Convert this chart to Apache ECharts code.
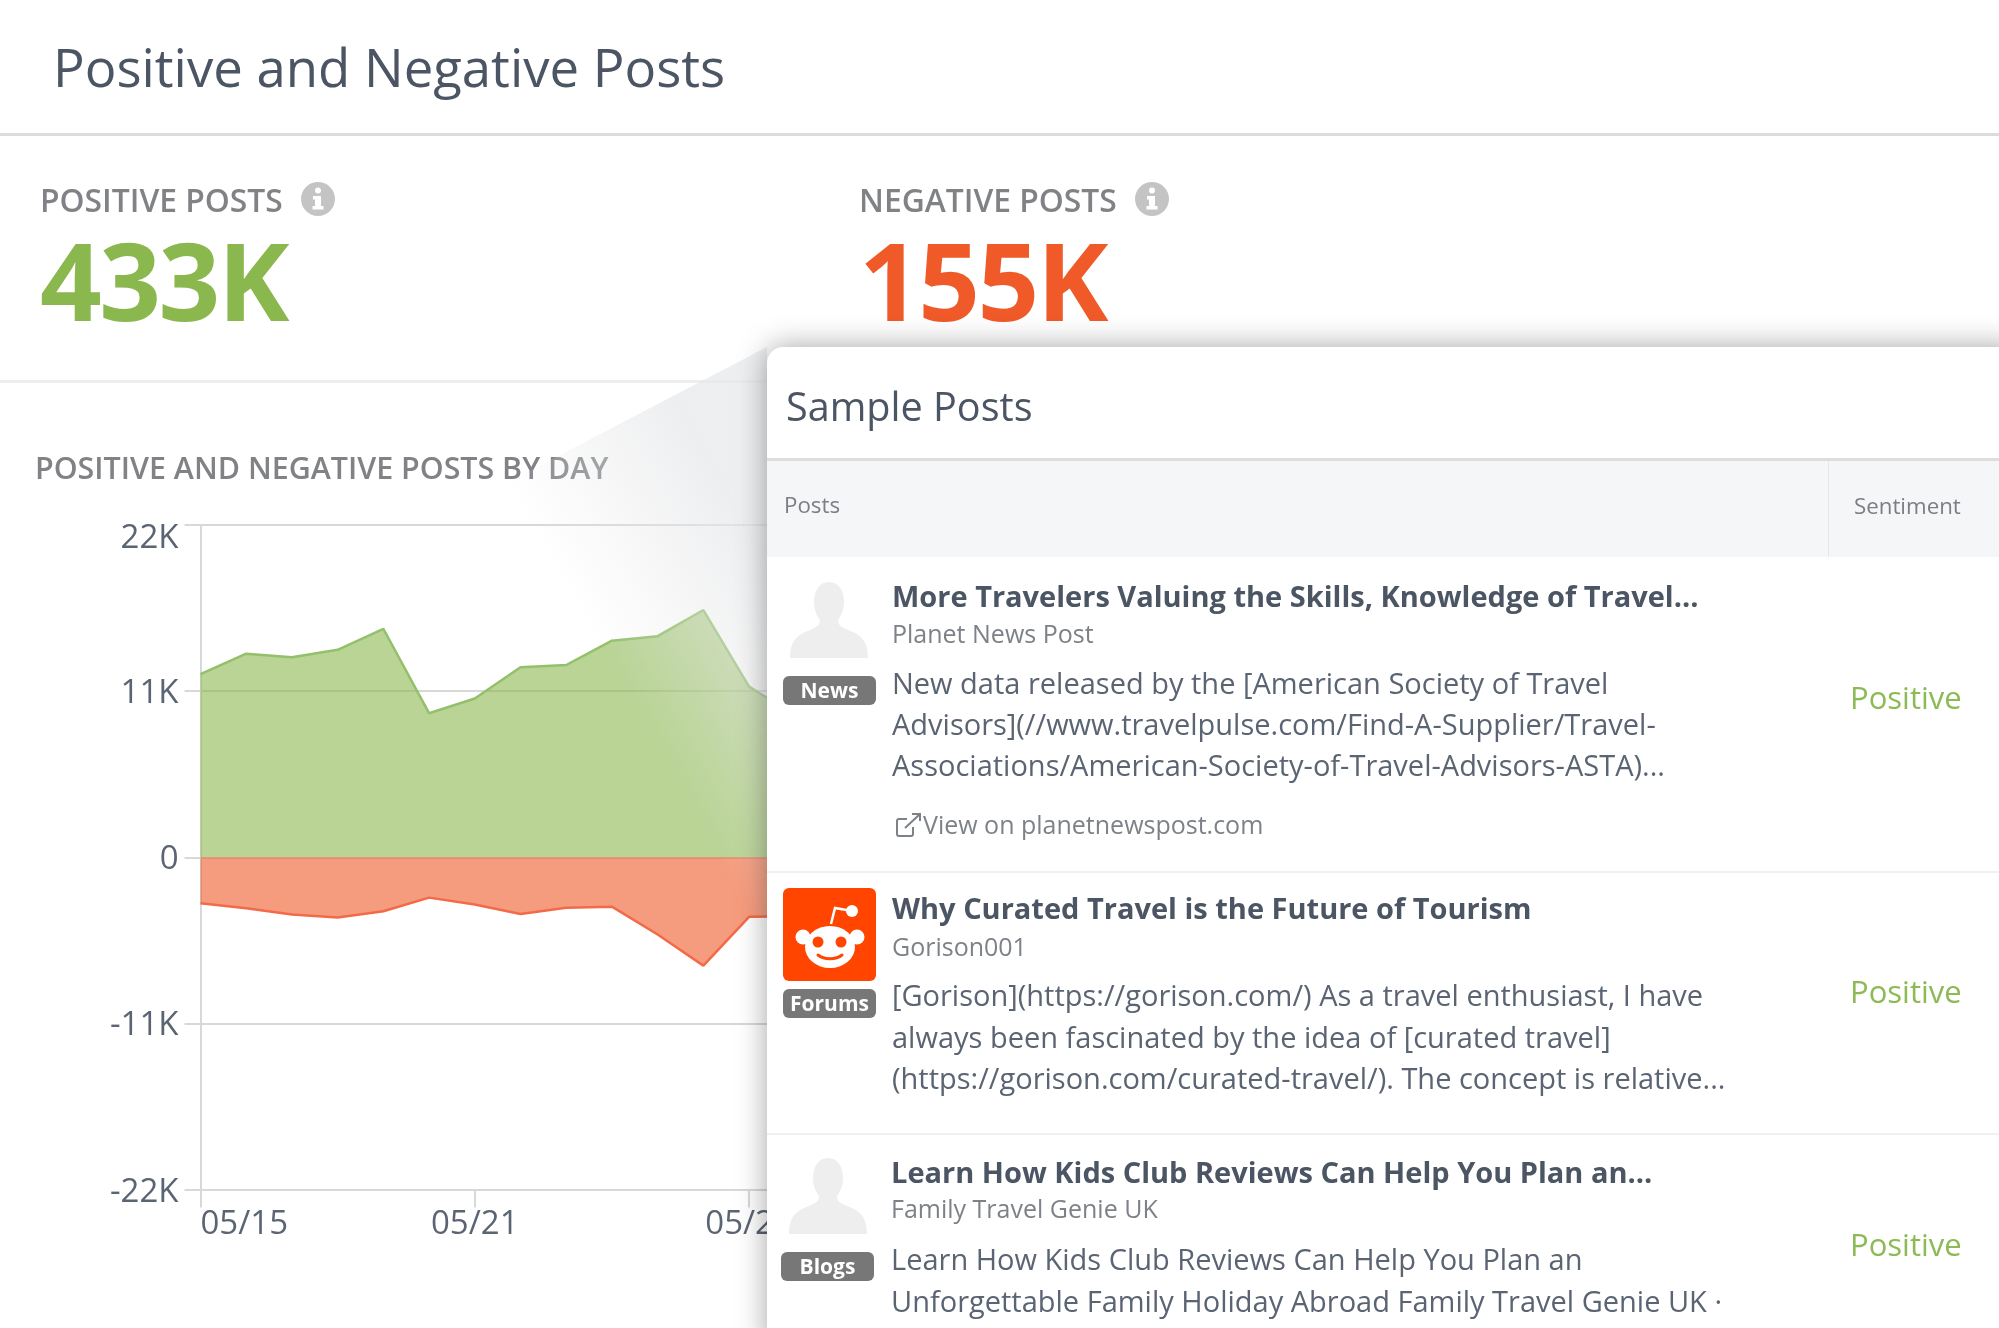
<!DOCTYPE html>
<html>
<head>
<meta charset="utf-8">
<title>Positive and Negative Posts</title>
<script src="https://cdn.jsdelivr.net/npm/echarts@6/dist/echarts.min.js"></script>
<style>
html, body { margin: 0; padding: 0; background: #fff; }
body { width: 1999px; height: 1328px; position: relative; overflow: hidden; font-family: "Open Sans", sans-serif; color: #4b5563; }
#chart { position: absolute; left: 0; top: 0; width: 1999px; height: 1328px; }
.t { position: absolute; white-space: nowrap; line-height: 1; transform: translateY(-50%); }
.rule { position: absolute; }
.label { font-size: 31.8px; font-weight: 600; color: #808285; }
.big { font-size: 108px; font-weight: 700; letter-spacing: -2.500px; }
.info { position: absolute; width: 34px; height: 34px; }
#wedge { position: absolute; left: 0; top: 0; }
#panel { position: absolute; left: 767px; top: 347px; width: 1260px; height: 1000px; background: #fff; border-radius: 16px 16px 0 0; box-shadow: 0 0 30px rgba(0,0,0,.36); }
.post-title { font-size: 29px; font-weight: 700; color: #4b5563; }
.post-src { font-size: 25px; color: #7d8288; }
.post-body { font-size: 29px; color: #5b6472; }
.pos { font-size: 31px; color: #8cbb55; }
.badge { position: absolute; width: 93px; height: 29px; background: #777; border-radius: 6px; color: #fff; font-size: 21px; font-weight: 700; line-height: 29px; text-align: center; }
.head { font-size: 22.300px; color: #7b7f85; }
.sep { position: absolute; height: 2px; background: #f1f1f1; }
</style>
</head>
<body>
<div id="chart"></div>

<!-- page head -->
<div class="t" style="left:53px;top:67px;font-size:52.700px;color:#4b5563">Positive and Negative Posts</div>
<div class="rule" style="left:0;top:133px;width:1999px;height:3px;background:#dcdcdc"></div>
<div class="t label" style="left:40px;top:200px">POSITIVE POSTS</div>
<svg class="info" style="left:301px;top:182px" viewBox="0 0 34 34"><circle cx="17" cy="17" r="17" fill="#c4c4c4"/><circle cx="17" cy="8.5" r="3" fill="#fff"/><path d="M12 14h8v10h2.500v3.500h-11V24H14v-6.500h-2z" fill="#fff"/></svg>
<div class="t big" style="left:40px;top:280px;color:#8ab84f">433K</div>
<div class="t label" style="left:859px;top:200px">NEGATIVE POSTS</div>
<svg class="info" style="left:1135px;top:182px" viewBox="0 0 34 34"><circle cx="17" cy="17" r="17" fill="#c4c4c4"/><circle cx="17" cy="8.500" r="3" fill="#fff"/><path d="M12 14h8v10h2.500v3.500h-11V24H14v-6.500h-2z" fill="#fff"/></svg>
<div class="t big" style="left:859px;top:280px;color:#f05a28">155K</div>
<div class="rule" style="left:0;top:380px;width:767px;height:3px;background:#eeeeee"></div>
<div class="t label" style="left:35px;top:468px;font-size:30.400px">POSITIVE AND NEGATIVE POSTS BY DAY</div>

<!-- shadow cone from the chart to the panel -->
<svg id="wedge" width="1999" height="1328">
  <defs>
    <linearGradient id="cone" gradientUnits="userSpaceOnUse" x1="627" y1="697" x2="792" y2="604">
      <stop offset="0" stop-color="#e6e7e9" stop-opacity="0"/>
      <stop offset="1" stop-color="#e6e7e9" stop-opacity="0.7"/>
    </linearGradient>
  </defs>
  <polygon points="767,347 480,497 767,1000" fill="url(#cone)"/>
</svg>

<div id="panel"></div>
<div class="t" style="left:786px;top:407px;font-size:39.600px">Sample Posts</div>
<div class="rule" style="left:767px;top:458px;width:1232px;height:3px;background:#dddddd"></div>
<div class="rule" style="left:767px;top:461px;width:1232px;height:96px;background:#f5f6f7"></div>
<div class="rule" style="left:1828px;top:461px;width:1px;height:96px;background:#e6e7e8"></div>
<div class="t head" style="left:784px;top:505px">Posts</div>
<div class="t head" style="left:1854px;top:506px">Sentiment</div>

<!-- row 1 -->
<svg style="position:absolute;left:788px;top:580px" width="82" height="80" viewBox="0 0 82 80"><path d="M41 2c10 0 15 9 15 20 0 8-3 14-6 18 0 4 2 7 10 10 14 5 20 12 20 28H2c0-16 6-23 20-28 8-3 10-6 10-10-3-4-6-10-6-18C26 11 31 2 41 2z" fill="#eeeeee"/></svg>
<div class="badge" style="left:783px;top:676px">News</div>
<div class="t post-title" style="left:892px;top:595px">More Travelers Valuing the Skills, Knowledge of Travel...</div>
<div class="t post-src" style="left:892px;top:633px">Planet News Post</div>
<div class="t post-body" style="left:892px;top:682px">New data released by the [American Society of Travel</div>
<div class="t post-body" style="left:892px;top:723px">Advisors](//www.travelpulse.com/Find-A-Supplier/Travel-</div>
<div class="t post-body" style="left:892px;top:764px">Associations/American-Society-of-Travel-Advisors-ASTA)...</div>
<svg style="position:absolute;left:895px;top:812px" width="28" height="26" viewBox="0 0 28 26" fill="none" stroke="#7d8288" stroke-width="2"><path d="M18 15v7a2 2 0 0 1-2 2H4a2 2 0 0 1-2-2V9a2 2 0 0 1 2-2h8"/><path d="M10 16L25 2M17 2h8v7"/></svg>
<div class="t post-src" style="left:923px;top:824px">View on planetnewspost.com</div>
<div class="t pos" style="left:1850px;top:697px">Positive</div>
<div class="sep" style="left:767px;top:871px;width:1232px"></div>

<!-- row 2 -->
<svg style="position:absolute;left:783px;top:888px" width="93" height="93" viewBox="0 0 93 93">
  <rect width="93" height="93" rx="6" fill="#ff4500"/>
  <circle cx="20" cy="49" r="7.500" fill="#fff"/><circle cx="74" cy="49" r="7.500" fill="#fff"/>
  <ellipse cx="47" cy="59" rx="25" ry="21" fill="#fff"/>
  <circle cx="35" cy="54" r="5.500" fill="#ff4500"/><circle cx="58" cy="54" r="5.500" fill="#ff4500"/>
  <path d="M35 67c6 5 18 5 24 0" fill="none" stroke="#ff4500" stroke-width="3" stroke-linecap="round"/>
  <path d="M48 36l4-16 17 3" fill="none" stroke="#fff" stroke-width="2.500"/>
  <circle cx="69" cy="23" r="6" fill="#fff"/>
</svg>
<div class="badge" style="left:783px;top:989px">Forums</div>
<div class="t post-title" style="left:892px;top:907px">Why Curated Travel is the Future of Tourism</div>
<div class="t post-src" style="left:892px;top:946px">Gorison001</div>
<div class="t post-body" style="left:892px;top:994px">[Gorison](https://gorison.com/) As a travel enthusiast, I have</div>
<div class="t post-body" style="left:892px;top:1036px">always been fascinated by the idea of [curated travel]</div>
<div class="t post-body" style="left:892px;top:1077px">(https://gorison.com/curated-travel/). The concept is relative...</div>
<div class="t pos" style="left:1850px;top:991px">Positive</div>
<div class="sep" style="left:767px;top:1133px;width:1232px"></div>

<!-- row 3 -->
<svg style="position:absolute;left:787px;top:1156px" width="82" height="80" viewBox="0 0 82 80"><path d="M41 2c10 0 15 9 15 20 0 8-3 14-6 18 0 4 2 7 10 10 14 5 20 12 20 28H2c0-16 6-23 20-28 8-3 10-6 10-10-3-4-6-10-6-18C26 11 31 2 41 2z" fill="#eeeeee"/></svg>
<div class="badge" style="left:781px;top:1252px">Blogs</div>
<div class="t post-title" style="left:891px;top:1171px">Learn How Kids Club Reviews Can Help You Plan an...</div>
<div class="t post-src" style="left:891px;top:1208px">Family Travel Genie UK</div>
<div class="t post-body" style="left:891px;top:1258px">Learn How Kids Club Reviews Can Help You Plan an</div>
<div class="t post-body" style="left:891px;top:1300px">Unforgettable Family Holiday Abroad Family Travel Genie UK ·</div>
<div class="t pos" style="left:1850px;top:1244px">Positive</div>

<script>
// posts per day
const days = ['05/15', '05/16', '05/17', '05/18', '05/19', '05/20', '05/21', '05/22', '05/23', '05/24', '05/25', '05/26', '05/27', '05/28', '05/29'];
const positivePosts = [12130, 13480, 13250, 13740, 15130, 9540, 10510, 12580, 12730, 14340, 14640, 16370, 11300, 9400, 9000];
const negativePosts = [-3040, -3380, -3790, -3980, -3570, -2670, -3120, -3750, -3340, -3270, -5110, -7170, -3940, -3900, -3900];
const yTickValues = [-22000, -11000, 0, 11000, 22000];
const yTickLabels = ['-22K', '-11K', '0', '11K', '22K'];

var myChart = echarts.init(document.getElementById('chart'));

var option = {
    animation: false,
    backgroundColor: 'transparent',
    textStyle: { fontFamily: 'Open Sans' },
    grid: {
        left: 200.5,
        top: 525,
        width: 640,
        height: 664.6
    },
    xAxis: {
        type: 'category',
        boundaryGap: false,
        data: days,
        position: 'bottom',
        axisLine: { onZero: false, lineStyle: { color: '#d8d8d8', width: 2 } },
        axisTick: { show: true, interval: 5, length: 18, lineStyle: { color: '#d8d8d8', width: 2 } },
        axisLabel: { interval: 5, fontSize: 33, color: '#5b6472', margin: 18, alignMinLabel: 'left', showMinLabel: true, hideOverlap: false },
        splitLine: { show: false }
    },
    yAxis: {
        type: 'value',
        min: -22000,
        max: 22000,
        interval: 11000,
        axisLine: { show: true, lineStyle: { color: '#d8d8d8', width: 2 } },
        axisTick: { show: true, length: 16, lineStyle: { color: '#d8d8d8', width: 2 } },
        axisLabel: {
            margin: 22,
            verticalAlignMaxLabel: 'top',
            formatter: function (v) { return '{tick|' + yTickLabels[yTickValues.indexOf(v)] + '}'; },
            rich: {
                tick: { fontSize: 33, color: '#5b6472', fontFamily: 'Open Sans', lineHeight: 23, padding: [5, 0, 0, 0] }
            }
        },
        splitLine: { show: true, lineStyle: { color: '#d8d8d8', width: 2 } }
    },
    series: [
        {
            type: 'line',
            name: 'Positive',
            data: positivePosts,
            showSymbol: false,
            z: 3,
            lineStyle: { color: '#93c06a', width: 2.5 },
            areaStyle: { color: '#8ab84f', opacity: 0.6 }
        },
        {
            type: 'line',
            name: 'Negative',
            data: negativePosts,
            showSymbol: false,
            z: 3,
            lineStyle: { color: '#f26a48', width: 2.5 },
            areaStyle: { color: '#f05a28', opacity: 0.6 }
        }
    ]
};

myChart.setOption(option);
</script>
</body>
</html>
